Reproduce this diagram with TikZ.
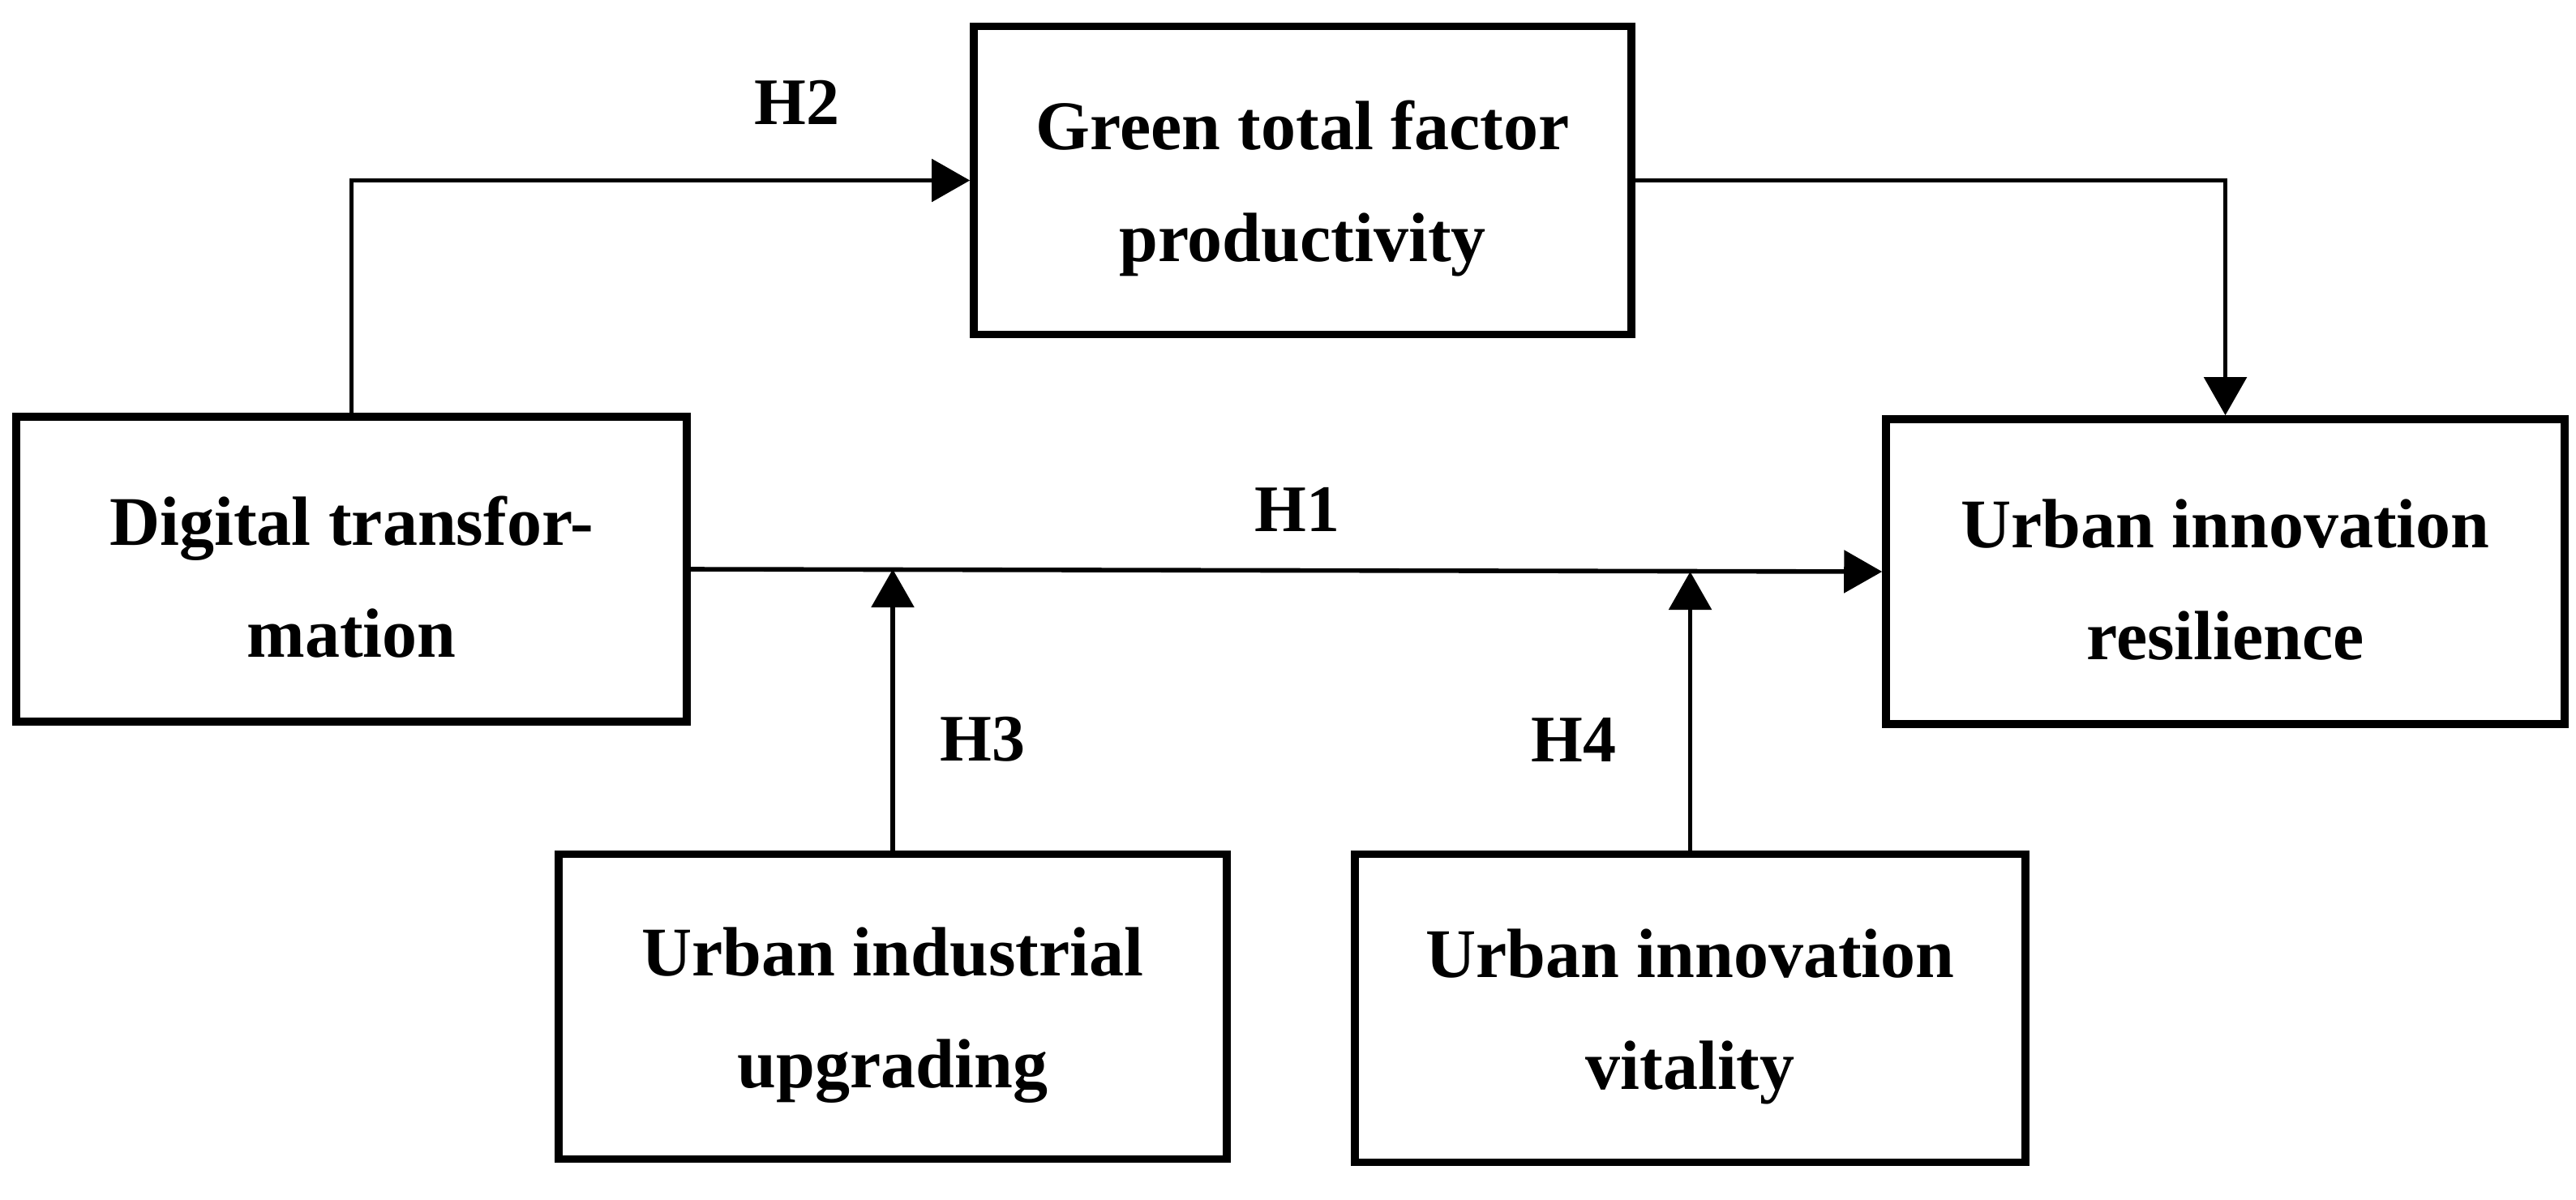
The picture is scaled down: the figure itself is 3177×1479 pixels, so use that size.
\documentclass[tikz,border=0pt]{standalone}
\usepackage{fontspec}
\setmainfont{Liberation Serif}
\usetikzlibrary{arrows.meta}
\newcommand\toppad{\rule{0pt}{20pt}}
\begin{document}
\begin{tikzpicture}[x=0.25pt,y=-0.25pt,
  box/.style={draw, line width=2.4pt, minimum width=#1*0.25pt, align=center,
    font=\bfseries\fontsize{21.5}{34.5}\selectfont, inner sep=0pt},
  box/.default=815,
  lab/.style={font=\bfseries\fontsize{20.5}{24}\selectfont, inner sep=0pt},
  arr/.style={line width=1.4pt, -{Triangle[length=11.75pt,width=13pt]}}]
\useasboundingbox (0,0) rectangle (3177,1479);
\node[box=811, minimum height=95pt] (green) at (1606.5,222.5) {\toppad Green total factor\\productivity};
\node[box=827, minimum height=94pt] (dig) at (433.5,702) {\toppad Digital transfor-\\mation};
\node[box=837, minimum height=94pt] (res) at (2744.5,705) {\toppad Urban innovation\\resilience};
\node[box=824, minimum height=94pt] (ind) at (1101,1241.5) {\toppad Urban industrial\\upgrading};
\node[box=827, minimum height=95pt] (vit) at (2084.5,1243.5) {\toppad Urban innovation\\vitality};
\draw[arr] (dig.north) |- (green.west);
\draw[arr] (green.east) -| (res.north);
\draw[arr] (dig.east) -- (res.west);
\coordinate (h3) at (ind.north |- dig.east);
\coordinate (h4) at (vit.north |- res.west);
\draw[arr] (ind.north) -- (h3);
\draw[arr] (vit.north) -- (h4);
\node[lab] (l2) at (983,126) {H2};
\node[lab] (l1) at (1600,628) {H1};
\node[lab] (l3) at (1212,912) {H3};
\node[lab] (l4) at (1941,912) {H4};
\end{tikzpicture}
\end{document}
